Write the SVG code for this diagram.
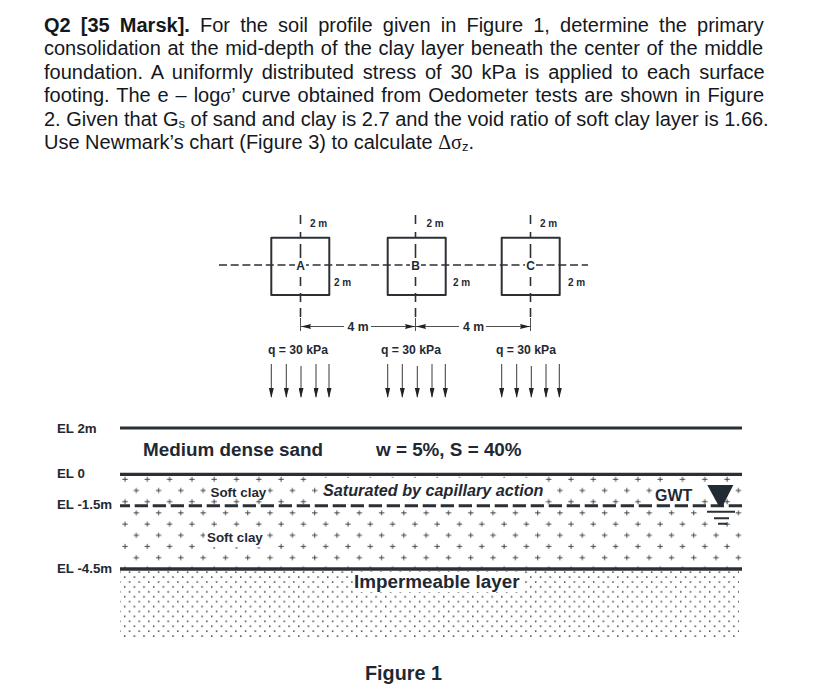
<svg xmlns="http://www.w3.org/2000/svg" width="816" height="697" viewBox="0 0 816 697">
<style>
text{font-family:"Liberation Sans",Arial,sans-serif;fill:#1f2933}
.h{font-size:20px;fill:#14181d}
.b{font-weight:bold}
.sy{font-family:"Liberation Serif",serif}
.s{font-size:10px;font-weight:bold}
.q{font-size:12.2px;font-weight:bold}
.el{font-size:13.3px;font-weight:bold}
.m{font-size:18.85px;font-weight:bold}
.c{font-size:13.4px;font-weight:bold}
.t{font-size:12px;font-weight:bold}
.sat{font-size:16.2px;font-weight:bold;font-style:italic}
.ln{stroke:#2b3036;fill:none}
.fo{stroke:#2b3036;stroke-width:2;fill:none;stroke-linejoin:round}
.dash{stroke:#2b3036;stroke-width:1.6;fill:none}
.ar{stroke:#222;stroke-width:.9;marker-end:url(#ah);fill:none}
.dm{stroke:#222;stroke-width:.8;fill:none}
.wh{fill:#fff}
</style>
<defs>
<marker id="ah" markerUnits="userSpaceOnUse" markerWidth="10" markerHeight="5" refX="9" refY="2.5" orient="auto" viewBox="0 0 10 5"><path d="M0 0L10 2.5L0 5Z" fill="#222"/></marker>
<marker id="dh" markerUnits="userSpaceOnUse" markerWidth="11" markerHeight="5" refX="10" refY="2.5" orient="auto-start-reverse" viewBox="0 0 10 5"><path d="M0 0L10 2.5L0 5L1 2.5Z" fill="#222"/></marker>
<pattern id="plus" width="22.3" height="22.4" patternUnits="userSpaceOnUse" x="122" y="476">
<path d="M.3 3.3H5.7M3 .8V5.8M11.6 14.5H17M14.3 12V17" stroke="#333" stroke-width=".9" fill="none"/>
</pattern>
<pattern id="dots" width="9.67" height="9.84" patternUnits="userSpaceOnUse" x="122" y="575">
<circle cx="2.7" cy="2" r=".85" fill="#333"/><circle cx="7.53" cy="6.92" r=".85" fill="#333"/>
</pattern>
<path id="axis" d="M0 215V224M0 232V238M0 244V260M0 263V270M0 277V286M0 293V302M0 308V317" stroke="#2b3036" stroke-width="1.6" fill="none"/>
</defs>
<g id="question">
<text class="h" y="32" x="44" style="word-spacing:4.57px"><tspan class="b">Q2 [35 Marsk].</tspan> For the soil profile given in Figure 1, determine the primary</text>
<text class="h" y="55" x="44" style="word-spacing:1.1px">consolidation at the mid-depth of the clay layer beneath the center of the middle</text>
<text class="h" y="78.500" x="44" style="word-spacing:3.27px">foundation. A uniformly distributed stress of 30 kPa is applied to each surface</text>
<text class="h" y="102" x="44" style="word-spacing:1.37px">footing. The e – log<tspan class="sy">σ</tspan>’ curve obtained from Oedometer tests are shown in Figure</text>
<text class="h" y="125.500" x="44">2. Given that G<tspan font-size="13" dy="2">s</tspan><tspan dy="-2"> of sand and clay is 2.7 and the void ratio of soft clay layer is 1.66.</tspan></text>
<text class="h" y="149" x="44">Use Newmark’s chart (Figure 3) to calculate <tspan class="sy">Δσ</tspan><tspan font-size="13" dy="2">z</tspan><tspan dy="-2">.</tspan></text>
</g>
<g id="layers">
<rect x="120" y="476" width="622" height="93" fill="url(#plus)"/>
<rect x="120" y="571" width="619" height="67" fill="url(#dots)"/>
</g>
<g id="connectors">
<path class="dash" stroke-dasharray="8 3.700" d="M219 265H588"/>
<use href="#axis" x="300.500"/><use href="#axis" x="415.500"/><use href="#axis" x="530.500"/>
<path class="dm" d="M325 326.500H344M371 326.500H390M440 326.500H459M486 326.500H505"/>
<path class="dm" marker-start="url(#dh)" d="M301 326.500H325"/>
<path class="dm" marker-end="url(#dh)" d="M390 326.500H415"/>
<path class="dm" marker-start="url(#dh)" d="M416 326.500H440"/>
<path class="dm" marker-end="url(#dh)" d="M505 326.500H530"/>
<path class="dm" d="M300.500 318V331M415.500 318V331M530.500 318V331"/>
<g id="load-arrows">
<path class="ar" d="M271.300 364V397"/><path class="ar" d="M286.300 364V397"/><path class="ar" d="M301 366V397"/><path class="ar" d="M316 364V397"/><path class="ar" d="M329 364V397"/>
<path class="ar" d="M387.700 364V397"/><path class="ar" d="M402.300 364V397"/><path class="ar" d="M417.300 366V397"/><path class="ar" d="M432 364V397"/><path class="ar" d="M445.300 364V397"/>
<path class="ar" d="M501.700 364V397"/><path class="ar" d="M516.700 364V397"/><path class="ar" d="M531.300 366V397"/><path class="ar" d="M546 364V397"/><path class="ar" d="M559.300 364V397"/>
</g>
</g>
<g id="masks">
<rect class="wh" x="206" y="484" width="62" height="14.500"/>
<rect class="wh" x="318" y="478" width="226" height="26"/>
<rect class="wh" x="205" y="529" width="60" height="18"/>
<rect class="wh" x="353" y="572" width="172" height="20"/>
<rect class="wh" x="654" y="484" width="43" height="20"/>
<rect class="wh" x="707" y="507" width="28" height="15"/>
</g>
<g id="ground-lines">
<path class="ln" stroke-width="3" d="M120 428H742"/>
<path class="ln" stroke-width="3.300" d="M120 474.300H742"/>
<path class="ln" stroke-width="3" stroke-dasharray="13.300 4.700" stroke-dashoffset="3.300" d="M120 505.700H742"/>
<path class="ln" stroke-width="3.300" d="M120 569H742"/>
</g>
<g id="footing-a"><rect class="fo" x="271.300" y="237.700" width="58" height="57.300"/><rect class="wh" x="295" y="258" width="11" height="13"/><text class="t" x="300.500" y="270" text-anchor="middle">A</text></g>
<g id="footing-b"><rect class="fo" x="387.700" y="237.700" width="58" height="57.300"/><rect class="wh" x="410" y="258" width="11" height="13"/><text class="t" x="415.500" y="270" text-anchor="middle">B</text></g>
<g id="footing-c"><rect class="fo" x="501.700" y="237.700" width="58" height="57.300"/><rect class="wh" x="525" y="258" width="11" height="13"/><text class="t" x="530.500" y="270" text-anchor="middle">C</text></g>
<g id="dimensions">
<text class="s" x="310" y="227">2 m</text><text class="s" x="426.500" y="227">2 m</text><text class="s" x="540" y="227">2 m</text>
<text class="s" x="334" y="286">2 m</text><text class="s" x="453" y="286">2 m</text><text class="s" x="568" y="286">2 m</text>
<text class="q" x="347.500" y="331">4 m</text><text class="q" x="463" y="331">4 m</text>
<text class="q" x="268" y="354">q = 30 kPa</text><text class="q" x="381" y="354">q = 30 kPa</text><text class="q" x="496" y="354">q = 30 kPa</text>
</g>
<g id="elevations">
<text class="el" x="57" y="433">EL 2m</text>
<text class="el" x="57" y="477.500">EL 0</text>
<text class="el" x="57" y="509">EL -1.5m</text>
<text class="el" x="57" y="572.700">EL -4.5m</text>
</g>
<g id="labels">
<text class="m" x="143" y="456">Medium dense sand</text>
<text class="m" x="376" y="456">w = 5%, S = 40%</text>
<text class="c" x="210.500" y="497">Soft clay</text>
<text class="sat" x="323" y="496">Saturated by capillary action</text>
<text class="c" x="207" y="542">Soft clay</text>
<text class="m" x="354" y="588">Impermeable layer</text>
<text class="m" x="655" y="501" style="font-size:16px">GWT</text>
<text class="m" x="365" y="680" style="font-size:19.8px">Figure 1</text>
</g>
<g id="gwt-symbol">
<path d="M707.300 485H733.300L722.500 506.500H719Z" fill="#222b33"/>
<path d="M707 511.700H735M714 518.300H729M718 523.700H727" stroke="#2b3036" stroke-width="2" fill="none"/>
</g>
</svg>
